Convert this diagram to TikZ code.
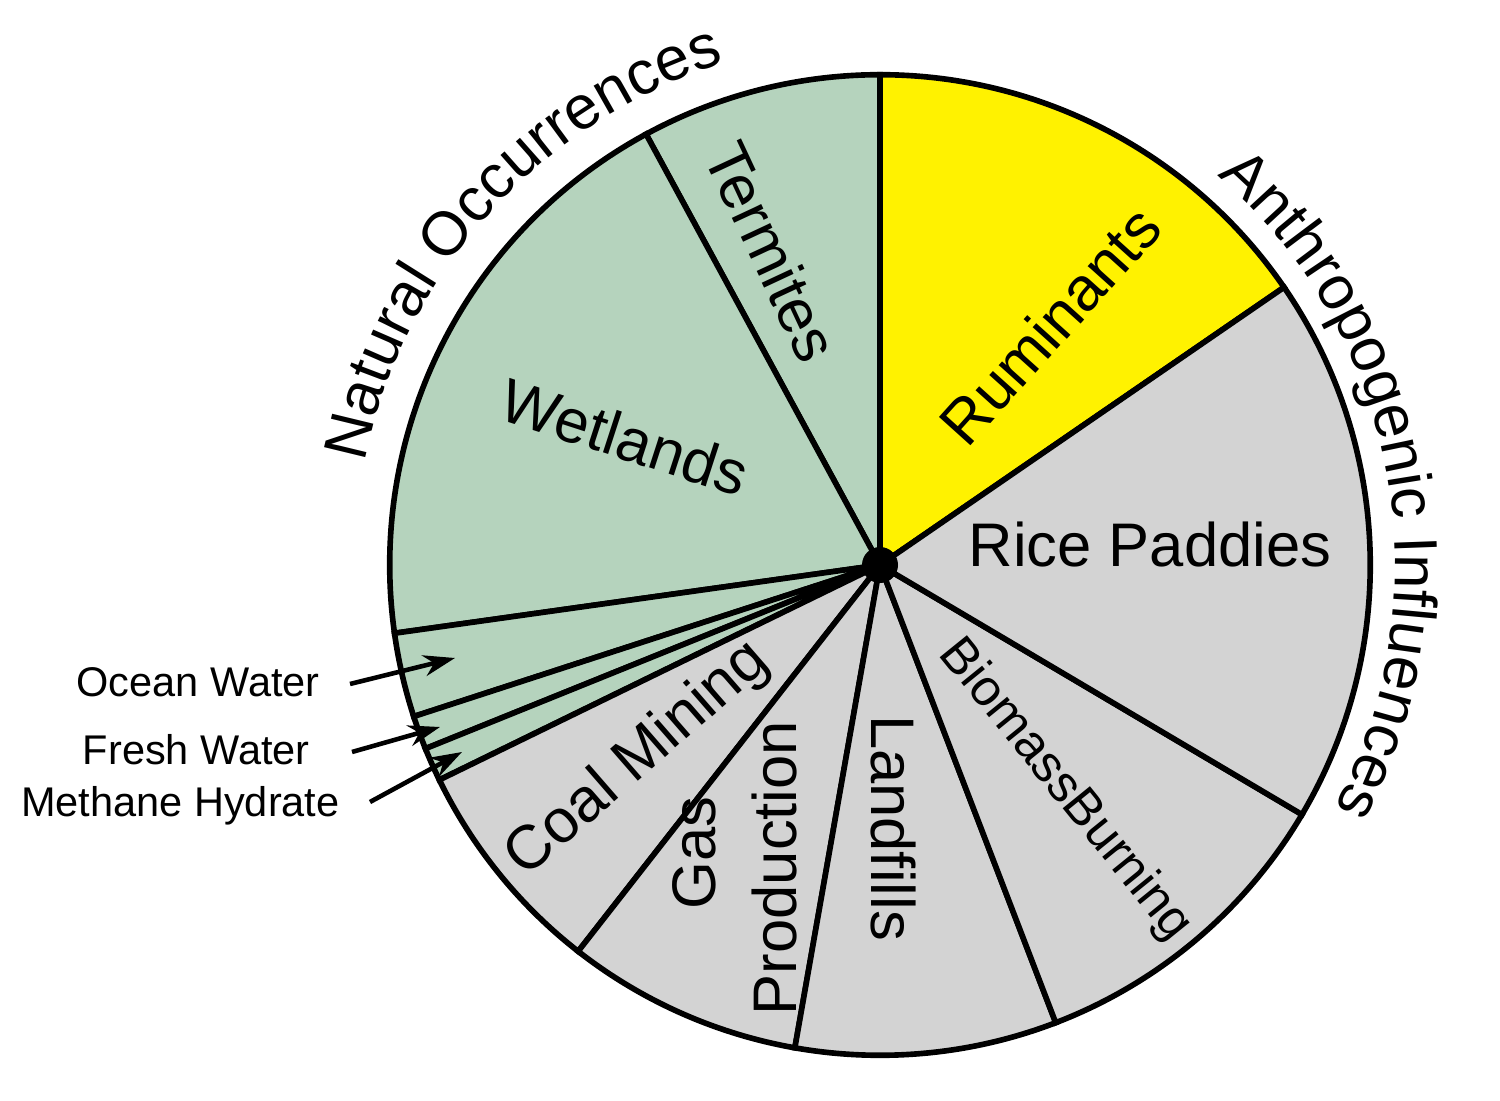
\documentclass[tikz,border=0pt]{standalone}
\usepackage{fontspec}
\setmainfont{Liberation Sans}
\usetikzlibrary{decorations.text,arrows.meta}
\begin{document}
\begin{tikzpicture}[x=0.01cm,y=-0.01cm,
  sl/.style={draw=black,line width=1.6pt},
  big/.style={font=\fontsize{17.5}{19}\selectfont},
  small/.style={font=\fontsize{11.8}{13}\selectfont},
  arr/.style={-{Stealth[length=9pt,width=6pt]},line width=1.3pt}]
\useasboundingbox (0,0) rectangle (1500,1101);
\coordinate (c) at (880,565);
\def\R{4.9cm}
\definecolor{grn}{HTML}{B5D3BD}
\definecolor{gry}{HTML}{D3D3D3}
\foreach \a/\b/\col in {34.5/90/yellow,90/118.5/grn,118.5/188/grn,188/198/grn,198/202/grn,202/206/grn,
  206/232/gry,232/260/gry,260/291/gry,291/329.4/gry,329.4/394.5/gry}{
  \filldraw[sl,fill=\col] (c) -- ++(\a:\R) arc[start angle=\a,end angle=\b,radius=\R] -- cycle;
}
\fill (c) circle[radius=0.18cm];
\node[big,rotate=-65] (ter) at (772,252) {Termites};
\node[big,rotate=-18] (wet) at (625,437) {Wetlands};
\node[big,rotate=48] (rum) at (1050,325) {Ruminants};
\node[big] (rice) at (1150,545) {Rice Paddies};
\node[font=\fontsize{14.5}{16}\selectfont,rotate=-51] (bio) at (1065,790) {BiomassBurning};
\node[big,rotate=-90] (land) at (893,828) {Landfills};
\node[big,rotate=90,align=left] (gas) at (735,868) {\hspace*{30pt}Gas\\[4pt]Production};
\node[big,rotate=41] (coal) at (638,760) {Coal Mining};
\node[small,anchor=east] (ocean) at (332,682) {Ocean Water};
\node[small,anchor=east] (fresh) at (322,750) {Fresh Water};
\node[small,anchor=east] (meth) at (352,806) {Methane Hydrate};
\coordinate (po) at (455,658);
\coordinate (pf) at (440,727);
\coordinate (pm) at (462,752);
\draw[arr] (ocean.east)++(18,2) -- (po);
\draw[arr] (fresh.east)++(30,2) -- (pf);
\draw[arr] (meth.east)++(18,-4) -- (pm);
\path[decorate,decoration={text along path,text align=center,
  text={|\fontsize{17.5}{19}\selectfont|Natural Occurrences}}]
  (c) ++(171:5.25cm) arc[start angle=171,end angle=105,radius=5.25cm];
\path[decorate,decoration={text along path,text align=center,
  text={|\fontsize{17.5}{19}\selectfont|Anthropogenic Influences}}]
  (c) ++(52:5.15cm) arc[start angle=52,end angle=-31,radius=5.15cm];
\end{tikzpicture}
\end{document}
